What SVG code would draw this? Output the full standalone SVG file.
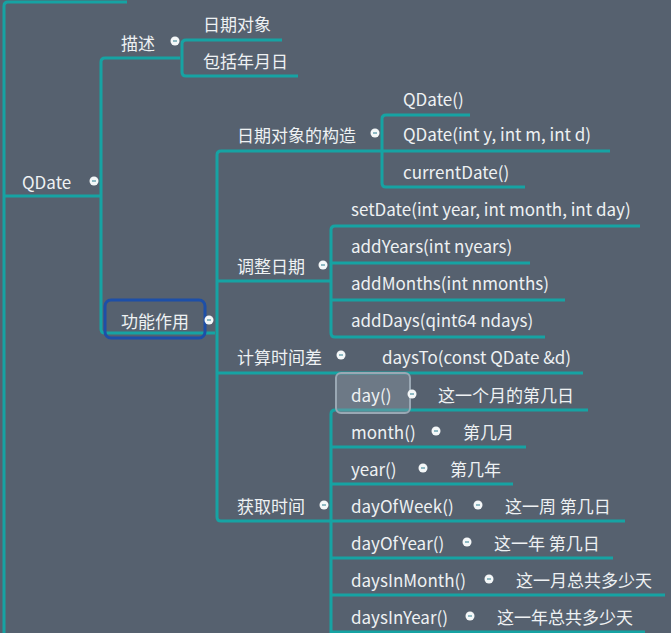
<svg xmlns="http://www.w3.org/2000/svg" width="671" height="633" viewBox="0 0 671 633">
<style>
text{font-family:"Noto Sans CJK SC","Liberation Sans",sans-serif;font-size:17px;fill:#eef1f3;dominant-baseline:central}
.l{fill:none;stroke:#16a3a3;stroke-width:3;stroke-linejoin:round}
</style>
<defs>
<g id="dot"><circle r="4.5" fill="#f4f7f8"/><line x1="-2" y1="0" x2="2" y2="0" stroke="#4a90a0" stroke-width="1.2"/></g>
</defs>
<rect width="671" height="633" fill="#56616f"/>
<g id="connectors">
<path class="l" d="M127,2 H8 Q4,2 4,6 V633"/>
<path class="l" d="M4,196 H101"/>
<path class="l" d="M180,58 H105 Q101,58 101,62 V329 Q101,333 105,333 H215"/>
<path class="l" d="M282,40 H186 Q182,40 182,44 V72 Q182,76 186,76 H298"/>
<path class="l" d="M382,151 H221 Q217,151 217,155 V517 Q217,521 221,521 H331"/>
<path class="l" d="M217,281 H331"/>
<path class="l" d="M217,373 H583"/>
<path class="l" d="M470,115 H386 Q382,115 382,119 V183 Q382,187 386,187 H525"/>
<path class="l" d="M382,151 H610"/>
<path class="l" d="M640,226 H335 Q331,226 331,230 V333 Q331,337 335,337 H545"/>
<path class="l" d="M331,263 H530 M331,300 H565"/>
<path class="l" d="M588,410 H335 Q331,410 331,414 V633"/>
<path class="l" d="M331,447 H526 M331,484 H513 M331,521 H625 M331,558 H613 M331,595 H665 M331,632 H645"/>
</g>
<g id="QDate"><text x="22" y="181">QDate</text><use href="#dot" x="94" y="181"/></g>
<g id="desc"><text x="121" y="42">描述</text><use href="#dot" x="175" y="41"/></g>
<g id="d1"><text x="203" y="23">日期对象</text></g>
<g id="d2"><text x="203" y="60">包括年月日</text></g>
<g id="func"><rect x="105" y="300" width="100" height="38" rx="6" fill="none" stroke="#1d4fa8" stroke-width="3"/><text x="121" y="320">功能作用</text><use href="#dot" x="209" y="320"/></g>
<g id="ctor"><text x="237" y="134">日期对象的构造</text><use href="#dot" x="375" y="133"/></g>
<g id="c1"><text x="403" y="98">QDate()</text></g>
<g id="c2"><text x="403" y="133">QDate(int y, int m, int d)</text></g>
<g id="c3"><text x="403" y="171">currentDate()</text></g>
<g id="adj"><text x="237" y="265">调整日期</text><use href="#dot" x="323" y="265"/></g>
<g id="a1"><text x="351" y="208">setDate(int year, int month, int day)</text></g>
<g id="a2"><text x="351" y="245">addYears(int nyears)</text></g>
<g id="a3"><text x="351" y="282">addMonths(int nmonths)</text></g>
<g id="a4"><text x="351" y="319">addDays(qint64 ndays)</text></g>
<g id="diff"><text x="237" y="356">计算时间差</text><use href="#dot" x="341" y="355"/><text x="382" y="356">daysTo(const QDate &amp;d)</text></g>
<g id="get"><text x="237" y="505">获取时间</text><use href="#dot" x="324" y="505"/></g>
<g id="g1"><rect x="336" y="373" width="74" height="40" rx="5" fill="#8a96a2" fill-opacity="0.45" stroke="#9aa8b4" stroke-width="2"/><text x="351" y="394">day()</text><use href="#dot" x="412" y="394"/><text x="438" y="394">这一个月的第几日</text></g>
<g id="g2"><text x="351" y="431">month()</text><use href="#dot" x="436" y="431"/><text x="463" y="431">第几月</text></g>
<g id="g3"><text x="351" y="468">year()</text><use href="#dot" x="423" y="468"/><text x="450" y="468">第几年</text></g>
<g id="g4"><text x="351" y="505">dayOfWeek()</text><use href="#dot" x="478" y="505"/><text x="505" y="505">这一周 第几日</text></g>
<g id="g5"><text x="351" y="542">dayOfYear()</text><use href="#dot" x="467" y="542"/><text x="494" y="542">这一年 第几日</text></g>
<g id="g6"><text x="351" y="579">daysInMonth()</text><use href="#dot" x="489" y="579"/><text x="516" y="579">这一月总共多少天</text></g>
<g id="g7"><text x="351" y="616">daysInYear()</text><use href="#dot" x="470" y="616"/><text x="497" y="616">这一年总共多少天</text></g>
</svg>
